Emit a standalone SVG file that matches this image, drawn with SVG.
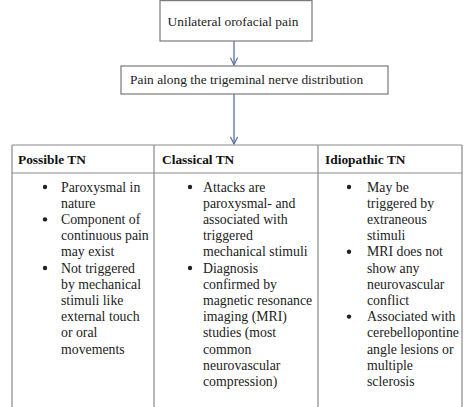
<svg xmlns="http://www.w3.org/2000/svg" width="474" height="407" viewBox="0 0 474 407">
<style>
.box{fill:#fff;stroke:#7a7a7a;stroke-width:1.2}
.t{font-family:'Liberation Serif','Times New Roman',serif;font-size:13.4px;fill:#222}
.h{font-family:'Liberation Serif','Times New Roman',serif;font-size:13.4px;font-weight:bold;fill:#111}
.b{font-family:'Liberation Serif','Times New Roman',serif;font-size:13.8px;fill:#222}
.grid{stroke:#8a8a8a;stroke-width:1.2;fill:none}
.conn{stroke:#5b6ba8;stroke-width:1.3;fill:none}
.dot{fill:#222}
</style>
<defs>
<marker id="arr" viewBox="0 0 10 10" refX="9" refY="5" markerWidth="9" markerHeight="9" markerUnits="userSpaceOnUse" orient="auto">
<path d="M1,1 L9,5 L1,9" fill="none" stroke="#5b6ba8" stroke-width="1.3"/>
</marker>
</defs>
<rect width="474" height="407" fill="#fff"/>
<g id="connectors">
<line class="conn" x1="234" y1="41" x2="234" y2="65" marker-end="url(#arr)"/>
<line class="conn" x1="234" y1="94" x2="234" y2="144" marker-end="url(#arr)"/>
</g>
<g id="node-unilateral">
<rect class="box" x="160" y="0.6" width="152" height="40.4"/>
<text class="t" x="233" y="26" text-anchor="middle">Unilateral orofacial pain</text>
</g>
<g id="node-trigeminal">
<rect class="box" x="121" y="66" width="267" height="28"/>
<text class="t" x="130" y="84">Pain along the trigeminal nerve distribution</text>
</g>
<g id="node-table">
<path class="grid" d="M12,145 H462 M12,173 H462 M12,145 V407 M154,145 V407 M318,145 V407 M462,145 V407"/>
<text class="h" x="18" y="164">Possible TN</text>
<text class="h" x="162" y="164">Classical TN</text>
<text class="h" x="325" y="164">Idiopathic TN</text>
</g>
<g id="node-possible">
<circle class="dot" cx="45" cy="187" r="2.2"/>
<circle class="dot" cx="45" cy="219.4" r="2.2"/>
<circle class="dot" cx="45" cy="268" r="2.2"/>
<text class="b" x="61" y="191.5">Paroxysmal in</text>
<text class="b" x="61" y="207.7">nature</text>
<text class="b" x="61" y="223.9">Component of</text>
<text class="b" x="61" y="240.1">continuous pain</text>
<text class="b" x="61" y="256.3">may exist</text>
<text class="b" x="61" y="272.5">Not triggered</text>
<text class="b" x="61" y="288.7">by mechanical</text>
<text class="b" x="61" y="304.9">stimuli like</text>
<text class="b" x="61" y="321.1">external touch</text>
<text class="b" x="61" y="337.3">or oral</text>
<text class="b" x="61" y="353.5">movements</text>
</g>
<g id="node-classical">
<circle class="dot" cx="190" cy="187" r="2.2"/>
<circle class="dot" cx="190" cy="268" r="2.2"/>
<text class="b" x="203" y="191.5">Attacks are</text>
<text class="b" x="203" y="207.7">paroxysmal- and</text>
<text class="b" x="203" y="223.9">associated with</text>
<text class="b" x="203" y="240.1">triggered</text>
<text class="b" x="203" y="256.3">mechanical stimuli</text>
<text class="b" x="203" y="272.5">Diagnosis</text>
<text class="b" x="203" y="288.7">confirmed by</text>
<text class="b" x="203" y="304.9">magnetic resonance</text>
<text class="b" x="203" y="321.1">imaging (MRI)</text>
<text class="b" x="203" y="337.3">studies (most</text>
<text class="b" x="203" y="353.5">common</text>
<text class="b" x="203" y="369.7">neurovascular</text>
<text class="b" x="203" y="385.9">compression)</text>
</g>
<g id="node-idiopathic">
<circle class="dot" cx="349" cy="187" r="2.2"/>
<circle class="dot" cx="349" cy="251.8" r="2.2"/>
<circle class="dot" cx="349" cy="316.6" r="2.2"/>
<text class="b" x="367" y="191.5">May be</text>
<text class="b" x="367" y="207.7">triggered by</text>
<text class="b" x="367" y="223.9">extraneous</text>
<text class="b" x="367" y="240.1">stimuli</text>
<text class="b" x="367" y="256.3">MRI does not</text>
<text class="b" x="367" y="272.5">show any</text>
<text class="b" x="367" y="288.7">neurovascular</text>
<text class="b" x="367" y="304.9">conflict</text>
<text class="b" x="367" y="321.1">Associated with</text>
<text class="b" x="367" y="337.3">cerebellopontine</text>
<text class="b" x="367" y="353.5">angle lesions or</text>
<text class="b" x="367" y="369.7">multiple</text>
<text class="b" x="367" y="385.9">sclerosis</text>
</g>
</svg>
